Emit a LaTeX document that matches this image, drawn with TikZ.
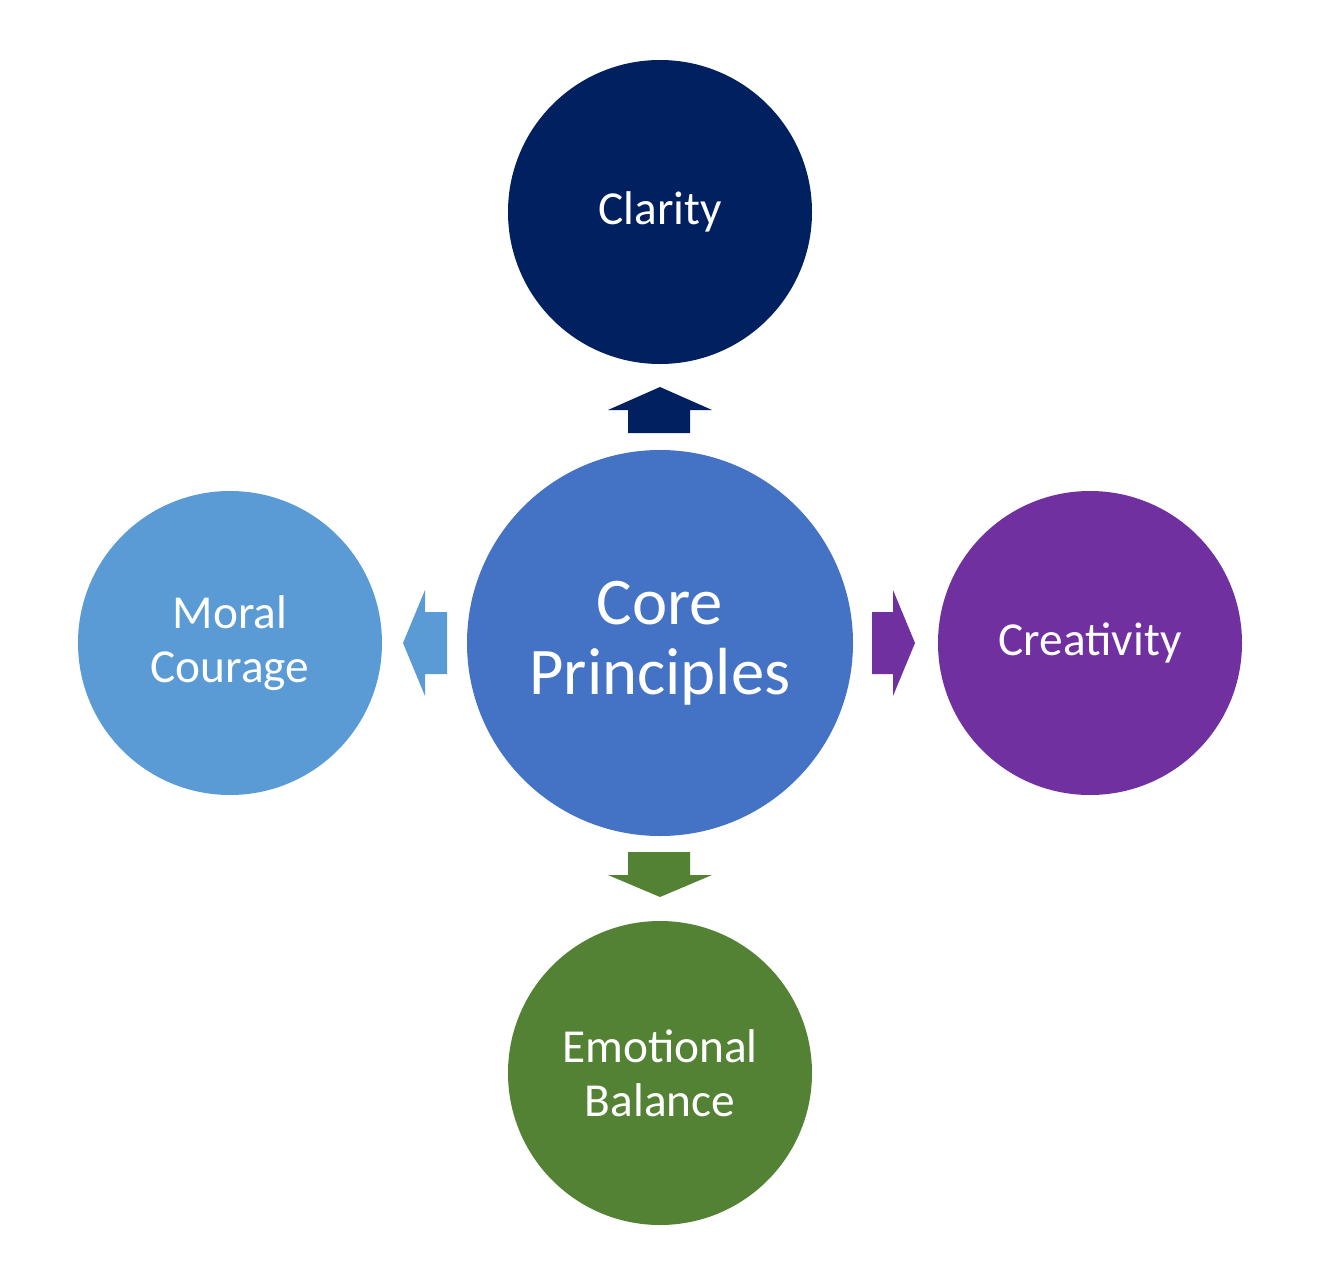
\documentclass[tikz,border=0pt]{standalone}
\usepackage{fontspec}
\setmainfont{Carlito}
\definecolor{cTop}{HTML}{002060}
\definecolor{cMid}{HTML}{4472C4}
\definecolor{cLeft}{HTML}{5B9BD5}
\definecolor{cRight}{HTML}{7030A0}
\definecolor{cBot}{HTML}{548235}
\begin{document}
\begin{tikzpicture}[x=0.75pt,y=-0.75pt,
  circ/.style={circle,minimum size=#1*0.75pt,inner sep=0pt,text=white,align=center},
  small/.style={font=\fontsize{35.5}{40.5}\selectfont},
  big/.style={font=\fontsize{50}{52.5}\selectfont}]
\useasboundingbox (0,0) rectangle (1329,1271);
\node[circ=386,fill=cMid,big] (core) at (660,643) {Core\\Principles};
\node[circ=304,fill=cTop,small] (top) at (660,212) {Clarity};
\node[circ=304,fill=cLeft,small] (left) at (230,643) {Moral\\Courage};
\node[circ=304,fill=cRight,small] (right) at (1090,643) {Creativity};
\node[circ=304,fill=cBot,small] (bot) at (660,1073) {Emotional\\Balance};
\fill[cTop] (628,433)--(628,410)--(608,410)--(660,387)--(712,410)--(690,410)--(690,433)--cycle;
\fill[cBot] (628,852)--(628,875)--(608,875)--(660,897)--(712,875)--(690,875)--(690,852)--cycle;
\fill[cRight] (872,612)--(893,612)--(893,590)--(915,643)--(893,696)--(893,674)--(872,674)--cycle;
\fill[cLeft] (447,612)--(425,612)--(425,590)--(403,643)--(425,696)--(425,674)--(447,674)--cycle;
\end{tikzpicture}
\end{document}
